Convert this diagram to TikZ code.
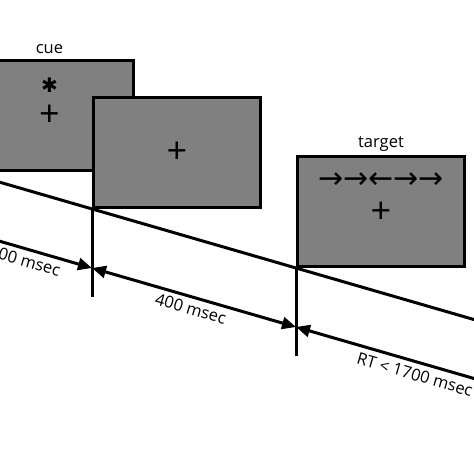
\documentclass[tikz,border=0pt]{standalone}
\usepackage{fontspec}
\setmainfont{Open Sans}
\newfontfamily\symfont{DejaVu Sans}
\usetikzlibrary{arrows.meta,calc}
\definecolor{scrgray}{RGB}{128,128,128}
\begin{document}
\begin{tikzpicture}[x=1pt,y=-1pt,
  screen/.style={draw=black,line width=3pt,fill=scrgray,minimum width=167pt,minimum height=110pt,inner sep=0pt,anchor=north west},
  lbl/.style={font=\fontsize{16.5}{19}\selectfont,inner sep=2pt},
  plus/.style={font=\fontsize{36}{36}\selectfont,inner sep=0pt},
  star/.style={font=\symfont\fontsize{20}{20}\selectfont,inner sep=0pt},
  flank/.style={font=\symfont\fontsize{30}{30}\selectfont,inner sep=0pt},
  tline/.style={line width=3pt},
  dimarrow/.style={line width=3pt,{Triangle[length=14pt,width=12pt]}-{Triangle[length=14pt,width=12pt]}},
  dimleft/.style={line width=3pt,{Triangle[length=14pt,width=12pt]}-}]
\useasboundingbox (0,0) rectangle (474,474);
\fill[white] (0,0) rectangle (474,474);
% screens
\node[screen] (b1) at (-35.5,59) {};
\node[screen] (b2) at (92,96) {};
\node[screen] (b3) at (296,155) {};
% captions
\node[lbl,anchor=base] (cue) at ($(b1.north)+(0,-6)$) {cue};
\node[lbl,anchor=base] (tgt) at ($(b3.north)+(0,-8)$) {target};
% stimuli
\node[star] (ast) at ($(b1.center)+(0,-30)$) {✱};
\node[plus] (p1) at (b1.center) {+};
\node[plus] (p2) at (b2.center) {+};
\node[flank] (fl) at ($(b3.center)+(0,-31)$) {→→←→→};
\node[plus] (p3) at ($(b3.center)+(0,1)$) {+};
% time line
\coordinate (tend) at ($(b1.south west)!1.8!(b3.south west)$);
\draw[tline] (b1.south west) -- (tend);
\coordinate (v1) at ($(b1.south west)+(0,88)$);
\coordinate (v2) at ($(b2.south west)+(0,88)$);
\coordinate (v3) at ($(b3.south west)+(0,88)$);
\draw[tline] (b1.south west) -- (v1);
\draw[tline] (b2.south west) -- (v2);
\draw[tline] (b3.south west) -- (v3);
% durations
\coordinate (m1) at ($(b1.south west)+(0,59)$);
\coordinate (m2) at ($(b2.south west)+(0,59)$);
\coordinate (m3) at ($(b3.south west)+(0,59)$);
\coordinate (m4) at ($(m2)!2.2!(m3)$);
\draw[dimarrow] (m1) -- node[lbl,sloped,below=2pt] (d1) {400 msec} (m2);
\draw[dimarrow] (m2) -- node[lbl,sloped,below=2pt] (d2) {400 msec} (m3);
\draw[dimleft] (m3) -- node[lbl,sloped,below=3pt] (d3) {RT < 1700 msec} (m4);
\end{tikzpicture}
\end{document}
